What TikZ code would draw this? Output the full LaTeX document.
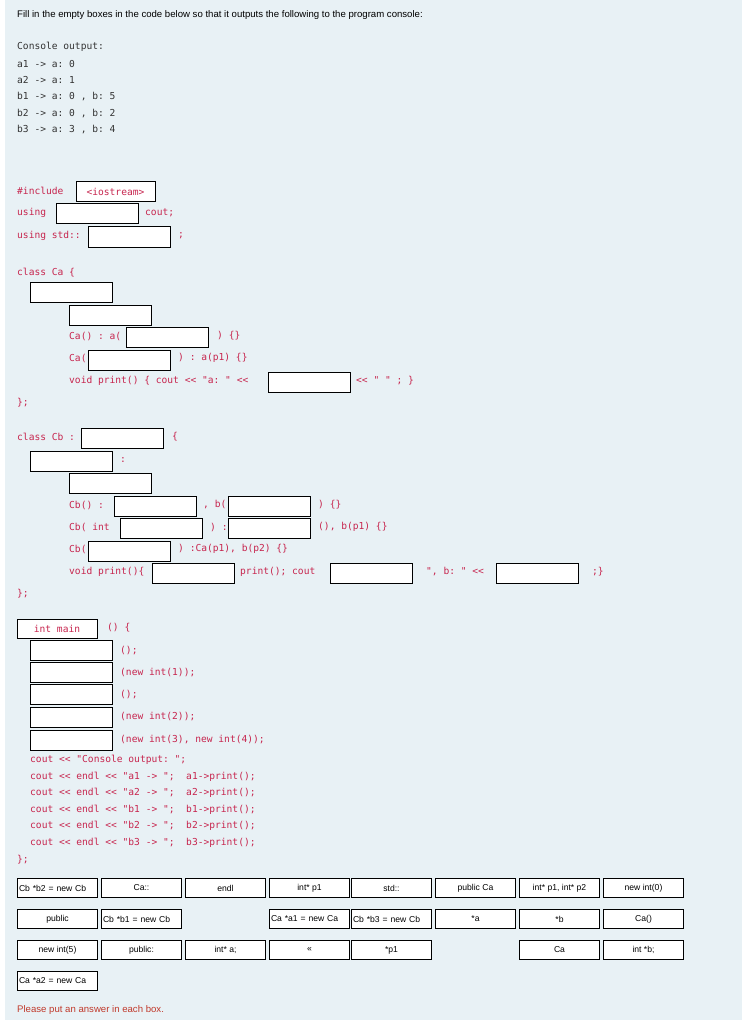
\documentclass[tikz,border=0pt]{standalone}
\usepackage{fontspec}
\setmainfont{Liberation Sans}
\setmonofont{DejaVu Sans Mono}
\definecolor{bg}{HTML}{E8F1F5}
\definecolor{code}{HTML}{C7254E}
\definecolor{con}{HTML}{333333}
\definecolor{note}{HTML}{C0392B}
\begin{document}
\begin{tikzpicture}[x=1pt,y=-1pt,
  ct/.style={anchor=west,inner sep=0,text=code,font=\ttfamily\fontsize{9.6}{11}\selectfont},
  cn/.style={anchor=west,inner sep=0,text=con,font=\ttfamily\fontsize{9.6}{11}\selectfont},
  bx/.style={draw=black,line width=1pt,fill=white,minimum width=82pt,minimum height=20pt,inner sep=1pt},
  ans/.style={draw=black,line width=1pt,fill=white,minimum width=80pt,minimum height=19pt,inner sep=1pt,font=\fontsize{8.6}{9}\selectfont,text=black},
  ansl/.style={ans,text width=77pt,align=left}]
\useasboundingbox (0,0) rectangle (747,1024);
\fill[bg] (5,0) rectangle (742,1020);
\node[anchor=west,inner sep=0,font=\fontsize{9.6}{11}\selectfont] (title) at (17,15) {Fill in the empty boxes in the code below so that it outputs the following to the program console:};
\node[cn] (c0) at (17,47) {Console output:};
\node[cn] (c1) at (17,64) {a1 -> a: 0};
\node[cn] (c2) at (17,80) {a2 -> a: 1};
\node[cn] (c3) at (17,97) {b1 -> a: 0 , b: 5};
\node[cn] (c4) at (17,114) {b2 -> a: 0 , b: 2};
\node[cn] (c5) at (17,130) {b3 -> a: 3 , b: 4};
% includes
\node[ct] (inc) at (17,191) {\#include};
\node[bx,minimum width=79pt,text=code,font=\ttfamily\fontsize{9.6}{11}\selectfont] (bi) at (115.5,191.5) {<iostream>};
\node[ct] (us1) at (17,213) {using};
\node[bx] (b1) at (97,213.5) {};
\node[ct] (cout) at (145,213) {cout;};
\node[ct] (us2) at (17,236) {using std::};
\node[bx] (b2) at (129,237) {};
\node[ct] (sc) at (178,236) {;};
% class Ca
\node[ct] (ca) at (17,273) {class Ca \{};
\node[bx] (b3) at (71,292) {};
\node[bx] (b4) at (110,315) {};
\node[ct] (ca1) at (69,336) {Ca() : a(};
\node[bx] (b5) at (167,337) {};
\node[ct] (ca1e) at (217,336) {) \{\}};
\node[ct] (ca2) at (69,358) {Ca(};
\node[bx] (b6) at (129,360) {};
\node[ct] (ca2e) at (178,358) {) : a(p1) \{\}};
\node[ct] (ca3) at (69,381) {void print() \{ cout << "a: " <<};
\node[bx] (b7) at (309,382) {};
\node[ct] (ca3e) at (356,381) {<< " " ; \}};
\node[ct] (cae) at (17,403) {\};};
% class Cb
\node[ct] (cb) at (17,437) {class Cb :};
\node[bx] (b8) at (122,438) {};
\node[ct] (cbb) at (172,437) {\{};
\node[bx] (b9) at (71,461) {};
\node[ct] (col) at (120,460) {:};
\node[bx] (b10) at (110,483) {};
\node[ct] (cb1) at (69,505) {Cb() :};
\node[bx] (b11) at (155,506) {};
\node[ct] (cb1m) at (203,505) {, b(};
\node[bx] (b12) at (269,506) {};
\node[ct] (cb1e) at (318,505) {) \{\}};
\node[ct] (cb2) at (69,527) {Cb( int};
\node[bx] (b13) at (161,528) {};
\node[ct] (cb2m) at (210,527) {) :};
\node[bx] (b14) at (269,528) {};
\node[ct] (cb2e) at (318,527) {(), b(p1) \{\}};
\node[ct] (cb3) at (69,549) {Cb(};
\node[bx] (b15) at (129,551) {};
\node[ct] (cb3e) at (178,549) {) :Ca(p1), b(p2) \{\}};
\node[ct] (cb4) at (69,572) {void print()\{};
\node[bx] (b16) at (193,573) {};
\node[ct] (cb4m) at (240,572) {print(); cout};
\node[bx] (b17) at (371,573) {};
\node[ct] (cb4n) at (426,572) {", b: " <<};
\node[bx] (b18) at (537,573) {};
\node[ct] (cb4e) at (592,572) {;\}};
\node[ct] (cbe) at (17,594) {\};};
% main
\node[bx,minimum width=80pt,minimum height=19pt,text=code,font=\ttfamily\fontsize{9.6}{11}\selectfont] (bm) at (57,628.5) {int main};
\node[ct] (mo) at (107,628) {() \{};
\node[bx] (m1) at (71,650) {};
\node[ct] (t1) at (120,651) {();};
\node[bx] (m2) at (71,672) {};
\node[ct] (t2) at (120,673) {(new int(1));};
\node[bx] (m3) at (71,694) {};
\node[ct] (t3) at (120,695) {();};
\node[bx] (m4) at (71,717) {};
\node[ct] (t4) at (120,717) {(new int(2));};
\node[bx] (m5) at (71,740) {};
\node[ct] (t5) at (120,740) {(new int(3), new int(4));};
\node[ct] (o0) at (30,760) {cout << "Console output: ";};
\node[ct] (o1) at (30,777) {cout << endl << "a1 -> ";\ \ a1->print();};
\node[ct] (o2) at (30,793) {cout << endl << "a2 -> ";\ \ a2->print();};
\node[ct] (o3) at (30,810) {cout << endl << "b1 -> ";\ \ b1->print();};
\node[ct] (o4) at (30,826) {cout << endl << "b2 -> ";\ \ b2->print();};
\node[ct] (o5) at (30,843) {cout << endl << "b3 -> ";\ \ b3->print();};
\node[ct] (me) at (17,860) {\};};
% answers
\node[ansl] (a11) at (57.5,888) {Cb *b2 = new Cb};
\node[ans] (a12) at (141.5,888) {Ca::};
\node[ans] (a13) at (225.5,888) {endl};
\node[ans] (a14) at (309.5,888) {int* p1};
\node[ans] (a15) at (391.5,888) {std::};
\node[ans] (a16) at (475.5,888) {public Ca};
\node[ans] (a17) at (559.5,888) {int* p1, int* p2};
\node[ans] (a18) at (643.5,888) {new int(0)};
\node[ans] (a21) at (57.5,919) {public};
\node[ansl] (a22) at (141.5,919) {Cb *b1 = new Cb};
\node[ansl] (a24) at (309.5,919) {Ca *a1 = new Ca};
\node[ansl] (a25) at (391.5,919) {Cb *b3 = new Cb};
\node[ans] (a26) at (475.5,919) {*a};
\node[ans] (a27) at (559.5,919) {*b};
\node[ans] (a28) at (643.5,919) {Ca()};
\node[ans] (a31) at (57.5,950) {new int(5)};
\node[ans] (a32) at (141.5,950) {public:};
\node[ans] (a33) at (225.5,950) {int* a;};
\node[ans] (a34) at (309.5,950) {<<};
\node[ans] (a35) at (391.5,950) {*p1};
\node[ans] (a37) at (559.5,950) {Ca};
\node[ans] (a38) at (643.5,950) {int *b;};
\node[ansl] (a41) at (57.5,981) {Ca *a2 = new Ca};
\node[anchor=west,inner sep=0,text=note,font=\fontsize{9.6}{11}\selectfont] (pl) at (17,1010) {Please put an answer in each box.};
\end{tikzpicture}
\end{document}
